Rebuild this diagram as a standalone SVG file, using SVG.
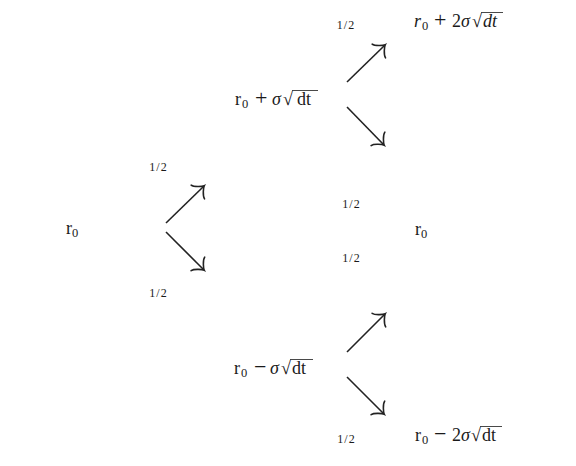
<svg xmlns="http://www.w3.org/2000/svg" width="576" height="466" viewBox="0 0 576 466">
<style>
.t{font-family:"Liberation Serif","Times New Roman",serif;font-size:18px;fill:#1a1a1a}
.i{font-style:italic}
.s{font-size:12.5px}
.o{font-size:22px}
.p{font-family:"Liberation Serif","Times New Roman",serif;font-size:12px;letter-spacing:1px;fill:#1a1a1a}
.ob{stroke:#1a1a1a;stroke-width:0.8}
.c{stroke:#222;stroke-width:1.6;fill:none;marker-end:url(#to)}
</style>
<defs>
<marker id="to" markerUnits="userSpaceOnUse" orient="auto" refX="0" refY="0" markerWidth="30" markerHeight="30" viewBox="-15 -15 30 30" overflow="visible">
<path d="M -7.2,9.6 C -6.6,6 0,0.6 1.8,0 C 0,-0.6 -6.6,-6 -7.2,-9.6" fill="none" stroke="#222" stroke-width="1.6" stroke-linecap="round"/>
</marker>
</defs>
<rect width="576" height="466" fill="#fff"/>
<g id="connectors">
<line class="c" x1="166" y1="223" x2="203" y2="187"/>
<line class="c" x1="166" y1="232" x2="203" y2="269"/>
<line class="c" x1="347" y1="82" x2="384" y2="46"/>
<line class="c" x1="347" y1="107" x2="383" y2="144"/>
<line class="c" x1="347" y1="352" x2="384" y2="315"/>
<line class="c" x1="347" y1="377" x2="383" y2="413"/>
</g>
<g id="probs">
<text class="p" x="346" y="29" text-anchor="middle">1/2</text>
<text class="p" x="158.5" y="171" text-anchor="middle">1/2</text>
<text class="p" x="158.5" y="297" text-anchor="middle">1/2</text>
<text class="p" x="351.5" y="208" text-anchor="middle">1/2</text>
<text class="p" x="351.5" y="262" text-anchor="middle">1/2</text>
<text class="p" x="346.5" y="443" text-anchor="middle">1/2</text>
</g>
<g id="n_r0">
<text class="t" x="66" y="234">r<tspan class="s" dy="3">0</tspan></text>
</g>
<g id="n_up1">
<text class="t" y="105"><tspan x="235">r</tspan><tspan class="s" x="242" dy="3">0</tspan><tspan class="o" x="255" dy="-3">+</tspan><tspan class="i" x="272">σ</tspan><tspan x="283">√</tspan><tspan x="297">dt</tspan></text>
<line class="ob" x1="292" y1="90.5" x2="318" y2="90.5"/>
</g>
<g id="n_dn1">
<text class="t" y="374"><tspan x="234">r</tspan><tspan class="s" x="241" dy="3">0</tspan><tspan class="o" x="254" dy="-3">−</tspan><tspan class="i" x="270">σ</tspan><tspan x="281">√</tspan><tspan x="292">dt</tspan></text>
<line class="ob" x1="290" y1="359.5" x2="313" y2="359.5"/>
</g>
<g id="n_up2">
<text class="t" y="27"><tspan class="i" x="414">r</tspan><tspan class="s" x="422" dy="3">0</tspan><tspan class="o" x="434" dy="-3">+</tspan><tspan x="452">2</tspan><tspan class="i" x="461">σ</tspan><tspan x="472">√</tspan><tspan class="i" x="483">dt</tspan></text>
<line class="ob" x1="481" y1="12.5" x2="503" y2="12.5"/>
</g>
<g id="n_mid2">
<text class="t" x="415" y="235">r<tspan class="s" dy="3">0</tspan></text>
</g>
<g id="n_dn2">
<text class="t" y="441"><tspan x="415">r</tspan><tspan class="s" x="422" dy="3">0</tspan><tspan class="o" x="434" dy="-3">−</tspan><tspan x="452">2</tspan><tspan class="i" x="461">σ</tspan><tspan x="471">√</tspan><tspan x="482">dt</tspan></text>
<line class="ob" x1="480" y1="426.5" x2="502" y2="426.5"/>
</g>
</svg>
